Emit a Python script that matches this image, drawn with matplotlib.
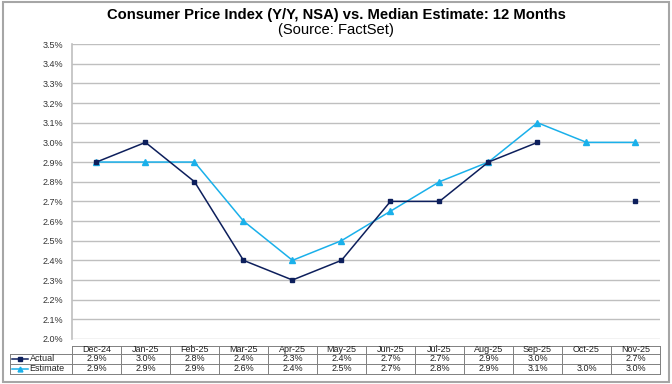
import numpy as np
import matplotlib
matplotlib.use("Agg")
from matplotlib import pyplot as plt
from matplotlib.patches import Rectangle
from matplotlib.lines import Line2D

plt.rcParams['font.family'] = ['Liberation Sans', 'DejaVu Sans']

months = ['Dec-24', 'Jan-25', 'Feb-25', 'Mar-25', 'Apr-25', 'May-25',
          'Jun-25', 'Jul-25', 'Aug-25', 'Sep-25', 'Oct-25', 'Nov-25']
actual = [2.9, 3.0, 2.8, 2.4, 2.3, 2.4, 2.7, 2.7, 2.9, 3.0, np.nan, 2.7]
estimate = [2.9, 2.9, 2.9, 2.6, 2.4, 2.5, 2.65, 2.8, 2.9, 3.1, 3.0, 3.0]
actual_labels = ['2.9%', '3.0%', '2.8%', '2.4%', '2.3%', '2.4%',
                 '2.7%', '2.7%', '2.9%', '3.0%', '', '2.7%']
estimate_labels = ['2.9%', '2.9%', '2.9%', '2.6%', '2.4%', '2.5%',
                   '2.7%', '2.8%', '2.9%', '3.1%', '3.0%', '3.0%']
yticks = np.round(np.arange(2.0, 3.51, 0.1), 1)

navy = '#0D1F5C'
sky = '#1AB0EA'
grid_c = '#BFBFBF'
border_c = '#808080'
txt_c = '#222222'

fig = plt.figure(figsize=(6.72, 3.84), dpi=100)
fig.patches.append(Rectangle((0.004, 0.006), 0.992, 0.988, transform=fig.transFigure,
                             fill=False, edgecolor='#A6A6A6', linewidth=1.5))

ax = fig.add_axes([0.1071, 0.1172, 0.875, 0.768])
x = np.arange(len(months))

ax.plot(x, actual, color=navy, lw=1.1, marker='s', ms=3.5, zorder=3)
ax.plot(x, estimate, color=sky, lw=1.1, marker='^', ms=4.5, zorder=2)

ax.set_xlim(-0.5, len(months) - 0.5)
ax.set_ylim(2.0, 3.5)
ax.set_yticks(yticks)
ax.set_yticklabels(['%.1f%%' % v for v in yticks], fontsize=6.5, color='#333333')
ax.tick_params(axis='y', length=0, pad=6)
ax.set_xticks([])
ax.grid(axis='y', color=grid_c, lw=1)
for s in ['top', 'right', 'bottom']:
    ax.spines[s].set_visible(False)
ax.spines['left'].set_color(grid_c)
ax.spines['left'].set_linewidth(1.2)

fig.text(0.5, 0.961, 'Consumer Price Index (Y/Y, NSA) vs. Median Estimate: 12 Months',
         ha='center', va='center', fontsize=10.6, fontweight='bold')
fig.text(0.5, 0.923, '(Source: FactSet)', ha='center', va='center', fontsize=10.6)

# data table under the axis
tr = ax.get_xaxis_transform()
rows_y = [-0.024, -0.050, -0.084, -0.119]
left = -0.5 - 62 / 49.0
kw = dict(transform=tr, clip_on=False, color=border_c, lw=0.7)
ax.plot([-0.5, 11.5], [rows_y[0]] * 2, **kw)
for yy in rows_y[1:]:
    ax.plot([left, 11.5], [yy] * 2, **kw)
for i in range(len(months) + 1):
    ax.plot([i - 0.5] * 2, [rows_y[0], rows_y[3]], **kw)
ax.plot([left] * 2, [rows_y[1], rows_y[3]], **kw)

tfs = 6.5
for i, m in enumerate(months):
    ax.text(i, (rows_y[0] + rows_y[1]) / 2, m, transform=tr, ha='center', va='center',
            fontsize=tfs, color=txt_c)
    ax.text(i, (rows_y[1] + rows_y[2]) / 2, actual_labels[i], transform=tr,
            ha='center', va='center', fontsize=tfs, color=txt_c)
    ax.text(i, (rows_y[2] + rows_y[3]) / 2, estimate_labels[i], transform=tr,
            ha='center', va='center', fontsize=tfs, color=txt_c)

for name, col, mk, ms, (y0, y1) in [('Actual', navy, 's', 3, rows_y[1:3]),
                                     ('Estimate', sky, '^', 3.5, rows_y[2:4])]:
    yc = (y0 + y1) / 2
    ax.add_line(Line2D([left + 0.04, left + 0.36], [yc, yc], transform=tr, color=col,
                       lw=1.1, clip_on=False))
    ax.add_line(Line2D([left + 0.2], [yc], transform=tr, color=col, marker=mk, ms=ms,
                       clip_on=False))
    ax.text(left + 0.4, yc, name, transform=tr, ha='left', va='center',
            fontsize=tfs, color=txt_c)

fig.savefig('out.png', dpi=100)
